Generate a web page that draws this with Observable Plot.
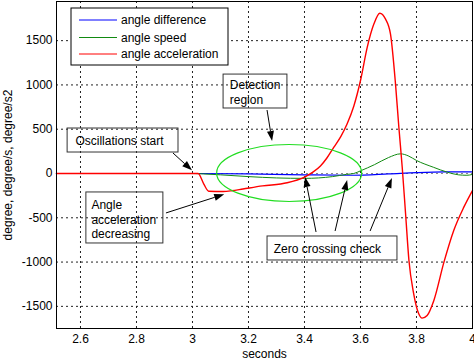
<!DOCTYPE html>
<html><head><meta charset="utf-8">
<script src="https://cdn.jsdelivr.net/npm/d3@7"></script>
<script src="https://cdn.jsdelivr.net/npm/@observablehq/plot@0.6"></script>
<style>body{margin:0;background:#fff;} #chart{width:474px;height:360px;}</style>
</head><body><div id="chart"></div>
<script>
// ---- data ----
const accelT = [2.514, 3.0, 3.02, 3.04, 3.058, 3.11, 3.14, 3.18, 3.25, 3.338, 3.40, 3.43, 3.457, 3.48, 3.505, 3.53, 3.552, 3.576, 3.60, 3.624, 3.648, 3.669, 3.689, 3.707, 3.725, 3.737, 3.749, 3.761, 3.773, 3.79, 3.808, 3.82, 3.838, 3.862, 3.898, 3.933, 3.969, 4.0];
const accelV = [0, 0, 0, -117, -200, -203, -195, -175, -140, -105, -40, 15, 85, 175, 297, 420, 560, 760, 1050, 1425, 1690, 1810, 1746, 1577, 1012, 523, 71, -455, -982, -1358, -1584, -1633, -1603, -1433, -1001, -643, -380, -192];

const speedT = [2.514, 3.0, 3.04, 3.1, 3.2, 3.3, 3.4, 3.45, 3.5, 3.55, 3.576, 3.6, 3.65, 3.70, 3.743, 3.77, 3.80, 3.86, 3.91, 3.95, 3.98, 4.0];
const speedV = [0, 0, -5, -15, -35, -50, -55, -50, -35, -10, 0, 30, 100, 180, 222, 200, 147, 71, 15, -15, -20, -10];

const diffT = [2.514, 3.0, 3.2, 3.4, 3.57, 3.7, 3.8, 3.9, 4.0];
const diffV = [0, 0, -5, -15, -20, -5, 10, 18, 18];

const seriesNames = ["angle difference", "angle speed", "angle acceleration"];
const seriesColors = ["#0000ff", "#118a11", "#ff0000"];

const xTicks = [2.6, 2.8, 3.0, 3.2, 3.4, 3.6, 3.8, 4.0];
const xTickLabels = ["2.6", "2.8", "3", "3.2", "3.4", "3.6", "3.8", "4"];
const yTicks = [-1500, -1000, -500, 0, 500, 1000, 1500];
const yTickLabels = ["-1500", "-1000", "-500", "0", "500", "1000", "1500"];

const xLabel = "seconds";
const yLabel = "degree, degree/s, degree/s2";

// annotations (data coordinates)
const boxes = [
  {t1: 2.554, t2: 2.950, v1: 508, v2: 237},
  {t1: 2.621, t2: 2.896, v1: -214, v2: -790},
  {t1: 3.111, t2: 3.339, v1: 1117, v2: 734},
  {t1: 3.268, t2: 3.732, v1: -711, v2: -982}
];
const boxTexts = [
  {t: 2.582, v: 372, text: "Oscillations start"},
  {t: 2.639, v: -514, text: "Angle\nacceleration\ndecreasing"},
  {t: 3.133, v: 925, text: "Detection\nregion"},
  {t: 3.290, v: -850, text: "Zero crossing check"}
];
const arrows = [
  {t1: 2.932, v1: 226, t2: 3.0, v2: 30},
  {t1: 2.907, v1: -451, t2: 3.115, v2: -240},
  {t1: 3.268, v1: 711, t2: 3.286, v2: 361},
  {t1: 3.443, v1: -666, t2: 3.404, v2: -45},
  {t1: 3.511, v1: -655, t2: 3.554, v2: -79},
  {t1: 3.636, v1: -655, t2: 3.714, v2: -56}
];
const detectionEllipse = [{t: 3.347, v: 0, rt: 0.259, rv: 322}];

// ---- build tables ----
const toRows = (T, V, name) => T.map((t, i) => ({t, v: V[i], name}));
const diffRows = toRows(diffT, diffV, seriesNames[0]);
const speedRows = toRows(speedT, speedV, seriesNames[1]);
const accelRows = toRows(accelT, accelV, seriesNames[2]);

function ellipseMark(data, stroke) {
  return (index, scales) => {
    const g = d3.create("svg:g");
    for (const e of data) {
      const cx = scales.x(e.t), cy = scales.y(e.v);
      const rx = Math.abs(scales.x(e.t + e.rt) - cx), ry = Math.abs(scales.y(e.v + e.rv) - cy);
      g.append("ellipse").attr("cx", cx).attr("cy", cy).attr("rx", rx).attr("ry", ry)
        .attr("fill", "none").attr("stroke", stroke).attr("stroke-width", 1.2);
    }
    return g.node();
  };
}

function arrowMark(data) {
  return (index, scales) => {
    const g = d3.create("svg:g");
    for (const a of data) {
      const x1 = scales.x(a.t1), y1 = scales.y(a.v1), x2 = scales.x(a.t2), y2 = scales.y(a.v2);
      const ang = Math.atan2(y2 - y1, x2 - x1);
      const L = 10, W = 3.5;
      const bx = x2 - L * Math.cos(ang), by = y2 - L * Math.sin(ang);
      g.append("line").attr("x1", x1).attr("y1", y1).attr("x2", bx).attr("y2", by)
        .attr("stroke", "black").attr("stroke-width", 1);
      g.append("path").attr("d", `M${x2},${y2}L${bx - W * Math.sin(ang)},${by + W * Math.cos(ang)}L${bx + W * Math.sin(ang)},${by - W * Math.cos(ang)}Z`)
        .attr("fill", "black");
    }
    return g.node();
  };
}

function legendMark() {
  return (index, scales, values, dims) => {
    const ml = dims.marginLeft, mt = dims.marginTop;
    const g = d3.create("svg:g");
    g.append("rect").attr("x", ml + 15).attr("y", mt + 7).attr("width", 157).attr("height", 57)
      .attr("fill", "white").attr("stroke", "black").attr("stroke-width", 1);
    const rows = [19, 36.5, 53];
    seriesNames.forEach((n, i) => {
      g.append("line").attr("x1", ml + 23).attr("x2", ml + 61).attr("y1", mt + rows[i]).attr("y2", mt + rows[i])
        .attr("stroke", seriesColors[i]).attr("stroke-width", 1);
      g.append("text").attr("x", ml + 65).attr("y", mt + rows[i]).attr("dy", "0.35em")
        .attr("text-anchor", "start").attr("fill", "black").attr("font-size", 12).text(n);
    });
    return g.node();
  };
}

const chart = Plot.plot({
  width: 474,
  height: 360,
  marginLeft: 56,
  marginRight: 2,
  marginTop: 1,
  marginBottom: 32,
  style: {fontFamily: "'Liberation Sans', Arial, sans-serif", fontSize: "12px", background: "white", color: "black"},
  x: {domain: [2.5143, 4.0], ticks: xTicks, tickFormat: (d) => xTickLabels[xTicks.indexOf(d)], tickSize: 0, tickPadding: 6, label: null},
  y: {domain: [-1750, 1942], ticks: yTicks, tickFormat: (d) => yTickLabels[yTicks.indexOf(d)], tickSize: 0, tickPadding: 4, label: null},
  marks: [
    Plot.ruleX(xTicks, {stroke: "#222", strokeDasharray: "2,3", strokeWidth: 1}),
    Plot.ruleY(yTicks.filter(d => d !== 0), {stroke: "#222", strokeDasharray: "2,3", strokeWidth: 1}),
    Plot.ruleY([0], {stroke: "#888", strokeDasharray: "2,3", strokeWidth: 1}),
    Plot.line(diffRows, {x: "t", y: "v", stroke: seriesColors[0], strokeWidth: 1.2, curve: "monotone-x"}),
    Plot.line(speedRows, {x: "t", y: "v", stroke: seriesColors[1], strokeWidth: 1, curve: "monotone-x"}),
    Plot.line(accelRows, {x: "t", y: "v", stroke: seriesColors[2], strokeWidth: 1.4, curve: "monotone-x"}),
    ellipseMark(detectionEllipse, "#22dd22"),
    Plot.rect(boxes, {x1: "t1", x2: "t2", y1: "v1", y2: "v2", fill: "none", stroke: "#333", strokeWidth: 1}),
    Plot.text(boxTexts, {x: "t", y: "v", text: "text", textAnchor: "start", lineAnchor: "middle", lineHeight: 1.22, fill: "black", fontSize: 12}),
    arrowMark(arrows),
    legendMark(),
    Plot.frame({stroke: "black", strokeWidth: 1}),
    Plot.text([yLabel], {frameAnchor: "left", dx: -48, rotate: -90, textAnchor: "middle", text: d => d, fill: "black", fontSize: 12}),
    Plot.text([xLabel], {frameAnchor: "bottom", dy: 21, lineAnchor: "top", textAnchor: "middle", text: d => d, fill: "black", fontSize: 12})
  ]
});
document.getElementById("chart").appendChild(chart);
</script>
</body></html>
